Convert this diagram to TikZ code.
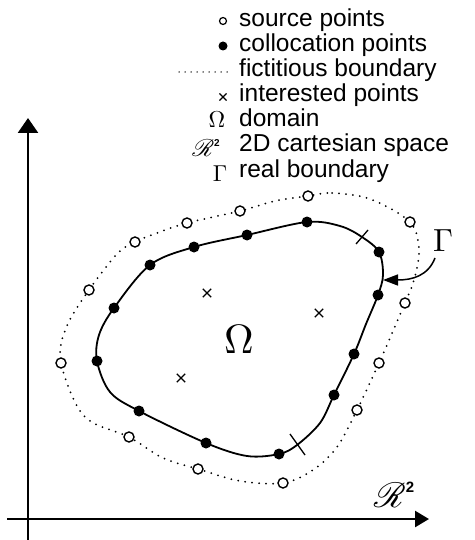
\documentclass[tikz,border=0pt]{standalone}
\usepackage{amsmath}
\usepackage{graphicx}
\usepackage{mathrsfs}
\usepackage{fontspec}
\setmainfont{Liberation Sans}
\usetikzlibrary{arrows.meta,shapes.misc}

\tikzset{
	src/.style={circle, draw, fill=white, line width=1.4pt, inner sep=0pt, minimum size=10pt},
	col/.style={circle, fill, inner sep=0pt, minimum size=11pt},
	crs/.style={cross out, draw, line width=1.3pt, inner sep=0pt, minimum size=7pt},
	fict/.style={line width=2pt, dash pattern=on 0pt off 7pt, line cap=round},
	real/.style={line width=1.8pt},
	axis/.style={line width=2.5pt},
	legtext/.style={anchor=base west, inner sep=0pt, font=\fontsize{24.5}{25}\selectfont}
}

\begin{document}
\begin{tikzpicture}[x=1pt, y=-1pt]
		\useasboundingbox (0,0) rectangle (474,540);
		\coordinate (S1) at (308,196);
		\coordinate (S2) at (410,222);
		\coordinate (S3) at (405,303);
		\coordinate (S4) at (379,363);
		\coordinate (S5) at (357,410);
		\coordinate (S6) at (283,483);
		\coordinate (S7) at (198,469);
		\coordinate (S8) at (129,437);
		\coordinate (S9) at (61,363);
		\coordinate (S10) at (89,290);
		\coordinate (S11) at (135,242);
		\coordinate (S12) at (187,223);
		\coordinate (S13) at (240,211);
		\coordinate (C1) at (307,222);
		\coordinate (C2) at (379,252);
		\coordinate (C3) at (378,295);
		\coordinate (C4) at (354,354);
		\coordinate (C5) at (334,395);
		\coordinate (C6) at (279,454);
		\coordinate (C7) at (206,443);
		\coordinate (C8) at (139,411);
		\coordinate (C9) at (97,361);
		\coordinate (C10) at (114,308);
		\coordinate (C11) at (150,265);
		\coordinate (C12) at (194,247);
		\coordinate (C13) at (247,235);
		\coordinate (T1) at (362,237);
		\coordinate (T2) at (297,445);
		\coordinate (G) at (383,280);
		\coordinate (G0) at (435,258);
		\coordinate (O) at (28,519);
		\draw[axis, -{Triangle[length=15pt,width=20pt]}] (28,540) -- (28,118);
		\draw[axis, -{Triangle[length=14pt,width=16pt]}] (7,519) -- (429,519);
		\draw[fict] plot[smooth cycle, tension=0.55] coordinates {(S1) (332,193) (370,199) (S2) (419,250) (414,280) (S3) (393,331) (S4) (S5) (337,447) (313,470) (S6) (240,481) (S7) (163,458) (S8) (84,416) (S9) (66,328) (S10) (117,254) (S11) (157,233) (S12) (S13) (275,201)};
		\draw[real] plot[smooth cycle, tension=0.55] coordinates {(C1) (340,226) (T1) (C2) (383,275) (C3) (366,324) (C4) (C5) (320,423) (T2) (C6) (247,456) (C7) (C8) (110,392) (C9) (99,335) (C10) (C11) (C12) (C13)};
		\draw[line width=1.3pt] (T1) +(-6,7) -- +(6,-7);
		\draw[line width=1.3pt] (T2) +(-7,-11) -- +(8,10);
		\node[src] (s1) at (S1) {};
		\node[src] (s2) at (S2) {};
		\node[src] (s3) at (S3) {};
		\node[src] (s4) at (S4) {};
		\node[src] (s5) at (S5) {};
		\node[src] (s6) at (S6) {};
		\node[src] (s7) at (S7) {};
		\node[src] (s8) at (S8) {};
		\node[src] (s9) at (S9) {};
		\node[src] (s10) at (S10) {};
		\node[src] (s11) at (S11) {};
		\node[src] (s12) at (S12) {};
		\node[src] (s13) at (S13) {};
		\fill (C1) circle (5.5) (C2) circle (5.5) (C3) circle (5.5) (C4) circle (5.5) (C5) circle (5.5)
		(C6) circle (5.5) (C7) circle (5.5) (C8) circle (5.5) (C9) circle (5.5) (C10) circle (5.5)
		(C11) circle (5.5) (C12) circle (5.5) (C13) circle (5.5);
		\node[crs] (X1) at (207,293) {};
		\node[crs] (X2) at (319,313) {};
		\node[crs] (X3) at (181,378) {};
		\node[inner sep=0pt] (Om) at (239,339) {\scalebox{4.1}{$\Omega$}};
		\node[inner sep=0pt] (Gam) at (443,241) {\scalebox{3.2}{$\Gamma$}};
		\draw[line width=1.5pt, -{Triangle[length=15pt,width=11pt]}] (G0) .. controls (428,276) and (412,280) .. (G);
		\node[inner sep=0pt] (Rlab) at (394,495) {\scalebox{3.5}{$\mathscr{R}$}\raisebox{15pt}{\fontsize{15}{15}\selectfont\bfseries 2}};
		\node[circle, draw, line width=1.2pt, inner sep=0pt, minimum size=7pt] (Lsrc) at (223,21) {};
		\node[circle, fill, inner sep=0pt, minimum size=9pt] (Lcol) at (223,46) {};
		\coordinate (L1) at (179,72);
		\coordinate (L2) at (227,72);
		\draw[line width=1.5pt, dash pattern=on 0pt off 6pt, line cap=round] (L1) -- (L2);
		\node[crs, minimum size=6pt, line width=1.1pt] (Lcrs) at (223,97) {};
		\node[inner sep=0pt] (LOm) at (217,120) {\scalebox{2.3}{$\Omega$}};
		\node[inner sep=0pt] (LR) at (206,148) {\scalebox{2.4}{$\mathscr{R}$}\raisebox{10pt}{\fontsize{10}{10}\selectfont\bfseries 2}};
		\node[inner sep=0pt] (LGam) at (220,174) {\scalebox{2.3}{$\Gamma$}};
		\node[legtext] (t1) at (239,27) {source points};
		\node[legtext] (t2) at (239,52) {collocation points};
		\node[legtext] (t3) at (239,77) {fictitious boundary};
		\node[legtext] (t4) at (239,102) {interested points};
		\node[legtext] (t5) at (239,127) {domain};
		\node[legtext] (t6) at (239,152) {2D cartesian space};
		\node[legtext] (t7) at (239,177) {real boundary};
\end{tikzpicture}
\end{document}
